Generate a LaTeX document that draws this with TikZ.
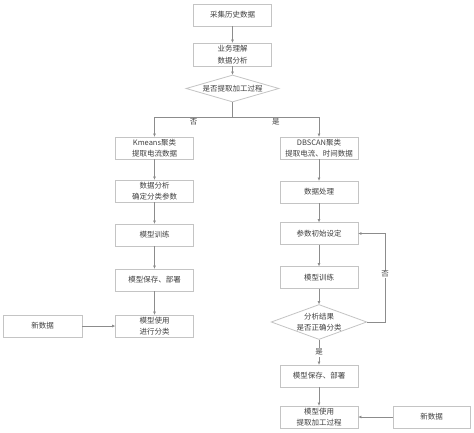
\documentclass[tikz,border=0pt]{standalone}
\usepackage{fontspec}
\setmainfont{Noto Sans CJK SC}
\usetikzlibrary{shapes.geometric,arrows.meta}
\definecolor{boxc}{HTML}{C4C4C4}
\definecolor{linec}{HTML}{8C8C8C}
\definecolor{txtc}{HTML}{404040}
\tikzset{
  stepbox/.style={draw=boxc, line width=0.8pt, fill=white, minimum width=78pt, minimum height=22pt, inner sep=0pt, align=center, text=txtc, font=\fontsize{7.5}{11.5}\selectfont},
  choice/.style={draw=boxc, line width=0.8pt, fill=white, shape=diamond, inner sep=0pt, align=center, text=txtc, font=\fontsize{7.5}{11.5}\selectfont},
  conn/.style={draw=linec, line width=0.7pt},
  arr/.style={conn, -{Triangle[length=3pt,width=2.6pt]}},
  lbl/.style={text=txtc, font=\fontsize{7.5}{9}\selectfont, inner sep=1pt},
}
\begin{document}
\begin{tikzpicture}[x=1pt,y=-1pt]
\useasboundingbox (0,0) rectangle (474,432);
% top
\node[stepbox] (b1) at (232.5,15) {采集历史数据};
\node[stepbox, minimum height=23pt] (b2) at (232.5,54.5) {业务理解\\数据分析};
\node[choice, aspect=3.45, minimum width=93pt, minimum height=27pt] (d1) at (232.5,88.5) {是否提取加工过程};
\coordinate (j) at (232.5,117.5);
% left column
\node[stepbox] (k1) at (154.5,148) {Kmeans聚类\\提取电流数据};
\node[stepbox] (k2) at (154.5,191) {数据分析\\确定分类参数};
\node[stepbox] (k3) at (154.5,235) {模型训练};
\node[stepbox] (k4) at (154.5,280) {模型保存、部署};
\node[stepbox] (k5) at (154.5,326) {模型使用\\进行分类};
\node[stepbox, minimum width=79pt] (n1) at (42.5,326) {新数据};
% right column
\node[stepbox] (r1) at (319,148) {DBSCAN聚类\\提取电流、时间数据};
\node[stepbox] (r2) at (319,192) {数据处理};
\node[stepbox] (r3) at (319,233.5) {参数初始设定};
\node[stepbox] (r4) at (319,277.5) {模型训练};
\node[choice, aspect=2.75, minimum width=94pt, minimum height=35pt] (d2) at (319,322) {分析结果\\是否正确分类};
\node[stepbox] (r5) at (319,376) {模型保存、部署};
\node[stepbox] (r6) at (319,417) {模型使用\\提取加工过程};
\node[stepbox, minimum width=77pt] (n2) at (431.5,417) {新数据};
\coordinate (fb) at (385,322);
% connectors
\draw[arr] (b1) -- (b2);
\draw[arr] (b2) -- (d1);
\draw[conn] (d1.south) -- (j);
\draw[arr] (j) -| node[lbl, pos=0.25, below] {否} (k1.north);
\draw[arr] (j) -| node[lbl, pos=0.25, below] {是} (r1.north);
\draw[arr] (k1) -- (k2);
\draw[arr] (k2) -- (k3);
\draw[arr] (k3) -- (k4);
\draw[arr] (k4) -- (k5);
\draw[arr] (n1) -- (k5);
\draw[arr] (r1) -- (r2);
\draw[arr] (r2) -- (r3);
\draw[arr] (r3) -- (r4);
\draw[arr] (r4) -- (d2);
\draw[arr] (d2.east) -- (fb) |- node[lbl, pos=0.27, fill=white] {否} (r3.east);
\draw[arr] (d2.south) -- node[lbl, fill=white] {是} (r5.north);
\draw[arr] (r5) -- (r6);
\draw[arr] (n2) -- (r6);
\end{tikzpicture}
\end{document}
